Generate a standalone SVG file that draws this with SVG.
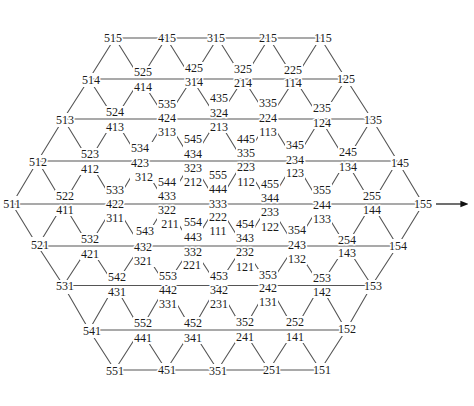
<svg xmlns="http://www.w3.org/2000/svg" width="474" height="406" viewBox="0 0 474 406">
<style>
.l{fill:none;stroke:#555;stroke-width:1.1}
text{font-family:"Liberation Serif","Times New Roman",serif;font-size:12px;fill:#1a1a1a;text-anchor:middle;stroke:#fff;stroke-width:3px;paint-order:stroke;stroke-linejoin:round}
</style>
<defs>
<marker id="ah" viewBox="0 0 10 10" refX="2" refY="5" markerWidth="8" markerHeight="8" markerUnits="userSpaceOnUse" orient="auto"><path d="M0,1 L10,5 L0,9 z" fill="#111"/></marker>
<mask id="holes" maskUnits="userSpaceOnUse" x="0" y="0" width="474" height="406">
<rect x="0" y="0" width="474" height="406" fill="#fff"/>
<g fill="#000">
<rect x="102" y="31" width="22" height="14"/><rect x="156" y="31" width="22" height="14"/><rect x="205" y="31" width="22" height="14"/><rect x="257" y="31" width="22" height="14"/><rect x="312" y="31" width="22" height="14"/>
<rect x="80" y="73" width="22" height="14"/><rect x="335" y="72" width="22" height="14"/>
<rect x="54" y="113" width="22" height="14"/><rect x="362" y="113" width="22" height="14"/>
<rect x="27" y="155" width="22" height="14"/><rect x="389" y="156" width="22" height="14"/>
<rect x="1" y="196" width="22" height="14"/><rect x="412" y="197" width="22" height="14"/>
<rect x="29" y="237" width="22" height="14"/><rect x="387" y="239" width="22" height="14"/>
<rect x="54" y="280" width="22" height="14"/><rect x="362" y="280" width="22" height="14"/>
<rect x="81" y="324" width="22" height="14"/><rect x="336" y="322" width="22" height="14"/>
<rect x="104" y="364" width="22" height="14"/><rect x="156" y="363" width="22" height="14"/><rect x="207" y="364" width="22" height="14"/><rect x="261" y="363" width="22" height="14"/><rect x="311" y="363" width="22" height="14"/>
<rect x="133" y="66" width="20" height="27"/><rect x="184" y="62" width="20" height="26"/><rect x="233" y="63" width="20" height="26"/><rect x="283" y="64" width="20" height="25"/>
<rect x="105" y="106" width="20" height="27"/><rect x="157" y="98" width="20" height="40"/><rect x="209" y="92" width="20" height="41"/><rect x="258" y="97" width="20" height="41"/><rect x="312" y="102" width="20" height="27"/>
<rect x="80" y="148" width="20" height="27"/><rect x="130" y="142" width="24" height="41"/><rect x="183" y="133" width="20" height="55"/><rect x="236" y="133" width="20" height="55"/><rect x="285" y="139" width="20" height="40"/><rect x="338" y="146" width="20" height="27"/>
<rect x="55" y="190" width="20" height="26"/><rect x="105" y="184" width="20" height="40"/><rect x="157" y="176" width="23" height="54"/><rect x="208" y="169" width="20" height="68"/><rect x="260" y="178" width="20" height="55"/><rect x="312" y="184" width="20" height="41"/><rect x="362" y="190" width="20" height="26"/>
<rect x="80" y="233" width="20" height="27"/><rect x="133" y="225" width="22" height="42"/><rect x="182" y="216" width="21" height="55"/><rect x="235" y="218" width="20" height="55"/><rect x="287" y="224" width="20" height="41"/><rect x="337" y="234" width="20" height="25"/>
<rect x="107" y="271" width="20" height="27"/><rect x="158" y="270" width="20" height="40"/><rect x="209" y="270" width="20" height="40"/><rect x="258" y="269" width="20" height="39"/><rect x="312" y="272" width="20" height="26"/>
<rect x="133" y="317" width="20" height="27"/><rect x="183" y="317" width="20" height="27"/><rect x="235" y="316" width="20" height="27"/><rect x="285" y="316" width="20" height="27"/>
</g>
</mask>
</defs>
<rect x="0" y="0" width="474" height="406" fill="#fff"/>
<g id="connectors">
<g id="diagonals" mask="url(#holes)">
<polyline class="l" points="12,204 37.7,246 63.4,285.5 89.1,330 114.8,370"/>
<polyline class="l" points="37.7,161 63.4,204 89.1,246 114.8,285.5 140.5,330 166.2,370"/>
<polyline class="l" points="63.4,119 89.1,161 114.8,204 140.5,246 166.2,285.5 191.9,330 217.6,370"/>
<polyline class="l" points="89.1,79 114.8,119 140.5,161 166.2,204 191.9,246 217.6,285.5 243.3,330 269,370"/>
<polyline class="l" points="114.8,38 140.5,79 166.2,119 191.9,161 217.6,204 243.3,246 269,285.5 294.7,330 320.4,370"/>
<polyline class="l" points="166.2,38 191.9,79 217.6,119 243.3,161 269,204 294.7,246 320.4,285.5 346.1,330"/>
<polyline class="l" points="217.6,38 243.3,79 269,119 294.7,161 320.4,204 346.1,246 371.8,285.5"/>
<polyline class="l" points="269,38 294.7,79 320.4,119 346.1,161 371.8,204 397.5,246"/>
<polyline class="l" points="320.4,38 346.1,79 371.8,119 397.5,161 423.2,204"/>
<polyline class="l" points="114.8,38 89.1,79 63.4,119 37.7,161 12,204"/>
<polyline class="l" points="166.2,38 140.5,79 114.8,119 89.1,161 63.4,204 37.7,246"/>
<polyline class="l" points="217.6,38 191.9,79 166.2,119 140.5,161 114.8,204 89.1,246 63.4,285.5"/>
<polyline class="l" points="269,38 243.3,79 217.6,119 191.9,161 166.2,204 140.5,246 114.8,285.5 89.1,330"/>
<polyline class="l" points="320.4,38 294.7,79 269,119 243.3,161 217.6,204 191.9,246 166.2,285.5 140.5,330 114.8,370"/>
<polyline class="l" points="346.1,79 320.4,119 294.7,161 269,204 243.3,246 217.6,285.5 191.9,330 166.2,370"/>
<polyline class="l" points="371.8,119 346.1,161 320.4,204 294.7,246 269,285.5 243.3,330 217.6,370"/>
<polyline class="l" points="397.5,161 371.8,204 346.1,246 320.4,285.5 294.7,330 269,370"/>
<polyline class="l" points="423.2,204 397.5,246 371.8,285.5 346.1,330 320.4,370"/>
</g>
<g id="rows">
<line class="l" x1="114.8" y1="38" x2="320.4" y2="38"/>
<line class="l" x1="89.1" y1="79" x2="346.1" y2="79"/>
<line class="l" x1="63.4" y1="119" x2="371.8" y2="119"/>
<line class="l" x1="37.7" y1="161" x2="397.5" y2="161"/>
<line class="l" x1="12" y1="204" x2="423.2" y2="204"/>
<line class="l" x1="37.7" y1="246" x2="397.5" y2="246"/>
<line class="l" x1="63.4" y1="285.5" x2="371.8" y2="285.5"/>
<line class="l" x1="89.1" y1="330" x2="346.1" y2="330"/>
<line class="l" x1="114.8" y1="370" x2="320.4" y2="370"/>
</g>
<line id="arrow" x1="436" y1="204" x2="462" y2="204" stroke="#111" stroke-width="1.2" marker-end="url(#ah)"/>
</g>
<g id="nodes">
<g id="n515"><text x="113" y="42">515</text></g>
<g id="n415"><text x="167" y="42">415</text></g>
<g id="n315"><text x="216" y="42">315</text></g>
<g id="n215"><text x="268" y="42">215</text></g>
<g id="n115"><text x="323" y="42">115</text></g>
<g id="n514"><text x="91" y="84">514</text></g>
<g id="n525-414"><text x="143" y="76">525</text><text x="143" y="91">414</text></g>
<g id="n425-314"><text x="194" y="72">425</text><text x="194" y="86">314</text></g>
<g id="n325-214"><text x="243" y="73">325</text><text x="243" y="87">214</text></g>
<g id="n225-114"><text x="293" y="74">225</text><text x="293" y="87">114</text></g>
<g id="n125"><text x="346" y="83">125</text></g>
<g id="n513"><text x="65" y="124">513</text></g>
<g id="n524-413"><text x="115" y="116">524</text><text x="115" y="131">413</text></g>
<g id="n535-424-313"><text x="167" y="108">535</text><text x="167" y="122">424</text><text x="167" y="136">313</text></g>
<g id="n435-324-213"><text x="219" y="102">435</text><text x="219" y="117">324</text><text x="219" y="131">213</text></g>
<g id="n335-224-113"><text x="268" y="107">335</text><text x="268" y="122">224</text><text x="268" y="136">113</text></g>
<g id="n235-124"><text x="322" y="112">235</text><text x="322" y="127">124</text></g>
<g id="n135"><text x="373" y="124">135</text></g>
<g id="n512"><text x="38" y="166">512</text></g>
<g id="n523-412"><text x="90" y="158">523</text><text x="90" y="173">412</text></g>
<g id="n534-423-312"><text x="140" y="152">534</text><text x="140" y="167">423</text><text x="144" y="181">312</text></g>
<g id="n545-434-323-212"><text x="193" y="143">545</text><text x="193" y="158">434</text><text x="193" y="172">323</text><text x="193" y="186">212</text></g>
<g id="n445-335-223-112"><text x="246" y="143">445</text><text x="246" y="157">335</text><text x="246" y="171">223</text><text x="246" y="186">112</text></g>
<g id="n345-234-123"><text x="295" y="149">345</text><text x="295" y="164">234</text><text x="295" y="177">123</text></g>
<g id="n245-134"><text x="348" y="156">245</text><text x="348" y="171">134</text></g>
<g id="n145"><text x="400" y="167">145</text></g>
<g id="n511"><text x="12" y="208">511</text></g>
<g id="n522-411"><text x="65" y="200">522</text><text x="65" y="214">411</text></g>
<g id="n533-422-311"><text x="115" y="194">533</text><text x="115" y="208">422</text><text x="115" y="222">311</text></g>
<g id="n544-433-322-211"><text x="167" y="186">544</text><text x="167" y="200">433</text><text x="167" y="214">322</text><text x="170" y="228">211</text></g>
<g id="n555-444-333-222-111"><text x="218" y="179">555</text><text x="218" y="193">444</text><text x="218" y="208">333</text><text x="218" y="221">222</text><text x="218" y="235">111</text></g>
<g id="n455-344-233-122"><text x="270" y="188">455</text><text x="270" y="202">344</text><text x="270" y="216">233</text><text x="270" y="231">122</text></g>
<g id="n355-244-133"><text x="322" y="194">355</text><text x="322" y="209">244</text><text x="322" y="223">133</text></g>
<g id="n255-144"><text x="372" y="200">255</text><text x="372" y="214">144</text></g>
<g id="n155"><text x="423" y="208">155</text></g>
<g id="n521"><text x="40" y="249">521</text></g>
<g id="n532-421"><text x="90" y="243">532</text><text x="90" y="258">421</text></g>
<g id="n543-432-321"><text x="145" y="235">543</text><text x="143" y="251">432</text><text x="143" y="265">321</text></g>
<g id="n554-443-332-221"><text x="193" y="226">554</text><text x="193" y="241">443</text><text x="193" y="256">332</text><text x="192" y="269">221</text></g>
<g id="n454-343-232-121"><text x="245" y="228">454</text><text x="245" y="242">343</text><text x="245" y="256">232</text><text x="245" y="271">121</text></g>
<g id="n354-243-132"><text x="297" y="234">354</text><text x="297" y="249">243</text><text x="297" y="263">132</text></g>
<g id="n254-143"><text x="347" y="244">254</text><text x="347" y="257">143</text></g>
<g id="n154"><text x="398" y="250">154</text></g>
<g id="n531"><text x="65" y="290">531</text></g>
<g id="n542-431"><text x="117" y="281">542</text><text x="117" y="296">431</text></g>
<g id="n553-442-331"><text x="168" y="280">553</text><text x="168" y="294">442</text><text x="168" y="308">331</text></g>
<g id="n453-342-231"><text x="219" y="280">453</text><text x="219" y="294">342</text><text x="219" y="308">231</text></g>
<g id="n353-242-131"><text x="268" y="279">353</text><text x="268" y="292">242</text><text x="268" y="306">131</text></g>
<g id="n253-142"><text x="322" y="282">253</text><text x="322" y="296">142</text></g>
<g id="n153"><text x="373" y="290">153</text></g>
<g id="n541"><text x="92" y="335">541</text></g>
<g id="n552-441"><text x="143" y="327">552</text><text x="143" y="342">441</text></g>
<g id="n452-341"><text x="193" y="327">452</text><text x="193" y="342">341</text></g>
<g id="n352-241"><text x="245" y="326">352</text><text x="245" y="341">241</text></g>
<g id="n252-141"><text x="295" y="326">252</text><text x="295" y="341">141</text></g>
<g id="n152"><text x="347" y="333">152</text></g>
<g id="n551"><text x="115" y="375">551</text></g>
<g id="n451"><text x="167" y="374">451</text></g>
<g id="n351"><text x="218" y="375">351</text></g>
<g id="n251"><text x="272" y="374">251</text></g>
<g id="n151"><text x="322" y="374">151</text></g>
</g>
</svg>
